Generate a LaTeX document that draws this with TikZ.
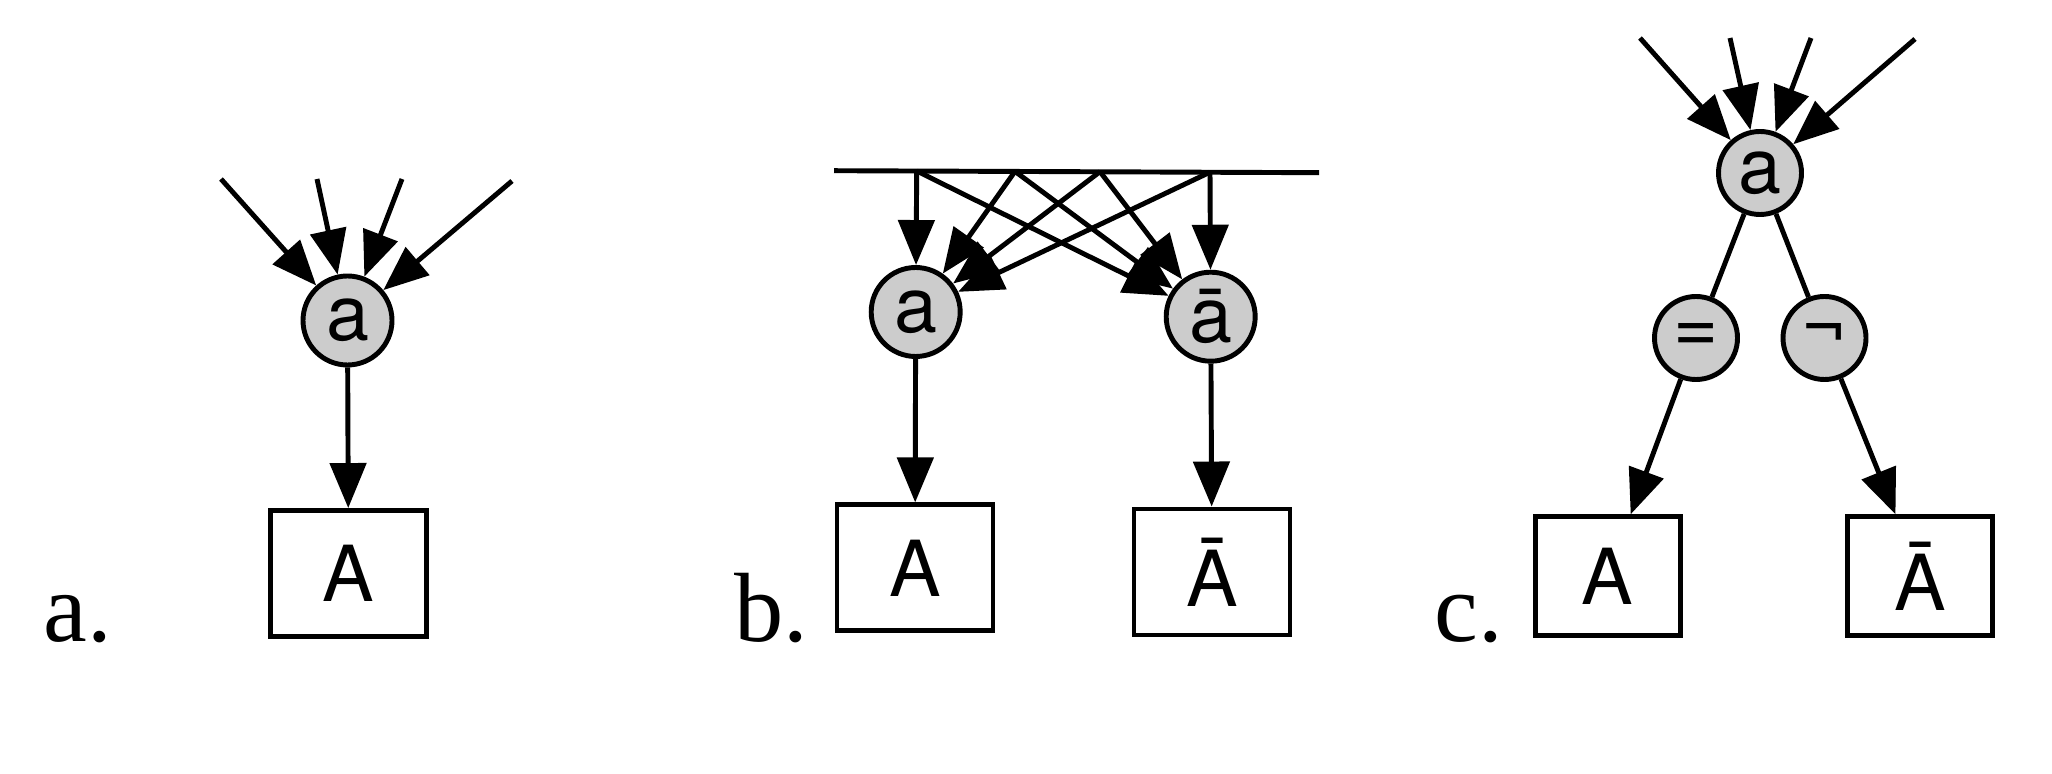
\documentclass[tikz,border=0pt]{standalone}
\usepackage{fontspec}
\setmainfont{TeX Gyre Heros}
\newfontfamily\tagfont{Liberation Serif}
\usetikzlibrary{arrows.meta}

\begin{document}
\begin{tikzpicture}[
	line width=1.4pt,
	>={Triangle[length=4.5mm,width=3.6mm]},
	every node/.style={font=\fontsize{22}{26}\selectfont},
	unit/.style={circle,draw,fill=black!20,inner sep=0pt,minimum size=8.9mm},
	cat/.style={rectangle,draw,inner sep=0pt,minimum width=15.6mm,minimum height=12.6mm},
	tag/.style={inner sep=0pt,anchor=base west,font=\tagfont\fontsize{28}{32}\selectfont}
]
	\useasboundingbox (0,0) rectangle (20.52,-7.74);

	% a.
	\node[tag] (ta) at (0.41,-6.42) {a.};
	\node[unit] (a1) at (3.475,-3.205) {a};
	\node[cat] (A1) at (3.485,-5.735) {A};
	\coordinate (i1) at (2.21,-1.79);
	\coordinate (i2) at (3.17,-1.79);
	\coordinate (i3) at (4.02,-1.79);
	\coordinate (i4) at (5.12,-1.81);

	\path [->] (i1) edge (a1);
	\path [->] (i2) edge (a1);
	\path [->] (i3) edge (a1);
	\path [->] (i4) edge (a1);
	\path [->] (a1) edge (A1);

	% b.
	\node[tag] (tb) at (7.32,-6.42) {b.};
	\coordinate (bl) at (8.34,-1.707);
	\coordinate (br) at (13.19,-1.727);
	\coordinate (t1) at (9.167,-1.710);
	\coordinate (t2) at (10.15,-1.714);
	\coordinate (t3) at (11.00,-1.717);
	\coordinate (t4) at (12.10,-1.722);
	\node[unit] (a2) at (9.157,-3.12) {a};
	\node[unit] (na2) at (12.107,-3.167) {ā};
	\node[cat] (A2) at (9.15,-5.679) {A};
	\node[cat] (nA2) at (12.12,-5.72) {Ā};

	\draw (bl) -- (br);
	\path [->] (t1) edge (a2);
	\path [->] (t1) edge (na2);
	\path [->] (t2) edge (a2);
	\path [->] (t2) edge (na2);
	\path [->] (t3) edge (a2);
	\path [->] (t3) edge (na2);
	\path [->] (t4) edge (a2);
	\path [->] (t4) edge (na2);
	\path [->] (a2) edge (A2);
	\path [->] (na2) edge (nA2);

	% c.
	\node[tag] (tc) at (14.32,-6.42) {c.};
	\node[unit,minimum size=8.3mm] (a3) at (17.60,-1.73) {a};
	\node[unit,minimum size=8.3mm] (eq3) at (16.96,-3.38) {=};
	\node[unit,minimum size=8.3mm] (neg3) at (18.245,-3.38) {¬};
	\node[cat,minimum width=14.5mm,minimum height=11.9mm] (A3) at (16.0775,-5.7625) {A};
	\node[cat,minimum width=14.5mm,minimum height=11.9mm] (nA3) at (19.204,-5.7625) {Ā};
	\coordinate (j1) at (16.40,-0.38);
	\coordinate (j2) at (17.30,-0.38);
	\coordinate (j3) at (18.11,-0.38);
	\coordinate (j4) at (19.15,-0.39);

	\path [->] (j1) edge (a3);
	\path [->] (j2) edge (a3);
	\path [->] (j3) edge (a3);
	\path [->] (j4) edge (a3);
	\path (a3) edge (eq3);
	\path (a3) edge (neg3);
	\path [->] (eq3) edge (A3);
	\path [->] (neg3) edge (nA3);
\end{tikzpicture}
\end{document}
